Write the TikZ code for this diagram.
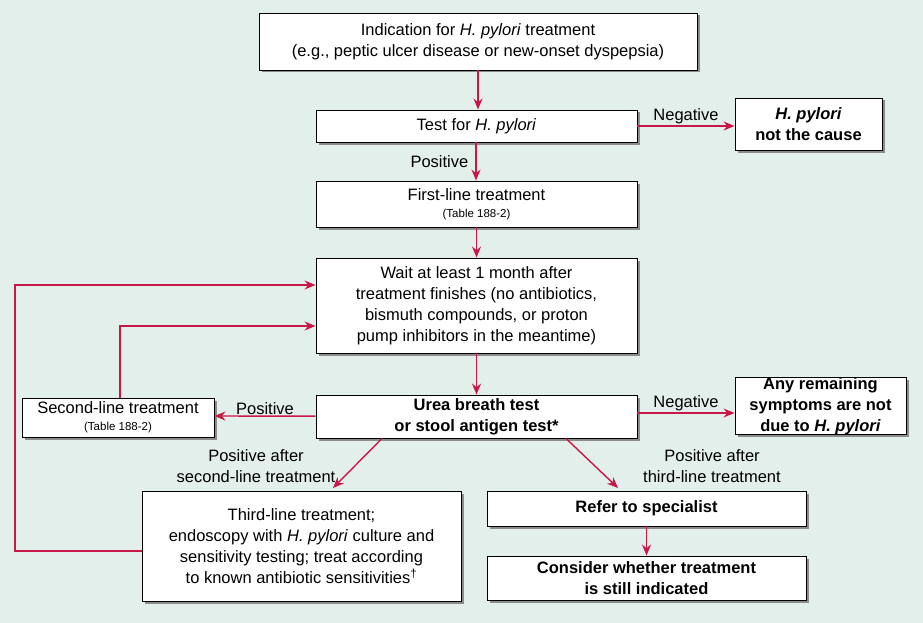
\documentclass[tikz,border=0pt]{standalone}
\usepackage{fontspec}
\setmainfont{Liberation Sans}
\usetikzlibrary{arrows.meta,shadows}
\definecolor{bg}{HTML}{E3EFEA}
\definecolor{ar}{HTML}{C8184A}
\newcommand\smtxt[1]{{\fontsize{11.5}{12}\selectfont #1}}
\begin{document}
\begin{tikzpicture}[x=1pt,y=-1pt,
 box/.style={draw=black,line width=0.9pt,fill=white,align=center,inner sep=0pt,
   font=\fontsize{16.5}{21}\selectfont,
   drop shadow={shadow xshift=2.5pt,shadow yshift=-2.5pt,fill=black!45,opacity=1}},
 con/.style={draw=ar,line width=1.4pt,-{Stealth[length=11pt,width=9pt]}},
 lab/.style={font=\fontsize{16.5}{21}\selectfont,align=center,inner sep=1pt}]
\fill[bg] (0,0) rectangle (923,623);
\useasboundingbox (0,0) rectangle (923,623);
\def\bx#1#2#3#4#5#6{\node[box,minimum width=#4-#2,minimum height=#5-#3] (#1) at ({(#2+#4)/2},{(#3+#5)/2}) {#6};}
\bx{top}{259}{13}{697}{70}{Indication for \textit{H. pylori} treatment\\(e.g., peptic ulcer disease or new-onset dyspepsia)}
\bx{test}{316}{110}{637}{142}{Test for \textit{H. pylori}}
\bx{notc}{735}{98}{882}{150}{\textbf{\textit{H. pylori}}\\\textbf{not the cause}}
\bx{first}{316}{181}{637}{227}{First-line treatment\\[-4pt]\smtxt{(Table 188-2)}}
\bx{wait}{316}{258}{637}{353}{Wait at least 1 month after\\treatment finishes (no antibiotics,\\bismuth compounds, or proton\\pump inhibitors in the meantime)}
\bx{urea}{316}{395}{637}{438}{\textbf{Urea breath test}\\\textbf{or stool antigen test*}}
\bx{rem}{735}{382}{906}{430}{\fontsize{16.5}{17}\selectfont\textbf{Any remaining}\\\textbf{symptoms are not}\\\textbf{due to \textit{H. pylori}}}
\bx{second}{22}{398}{214}{437}{Second-line treatment\\[-4pt]\smtxt{(Table 188-2)}}
\bx{third}{142}{491}{461}{601}{Third-line treatment;\\endoscopy with \textit{H. pylori} culture and\\sensitivity testing; treat according\\to known antibiotic sensitivities\textsuperscript{\dag}}
\bx{ref}{487}{491}{806}{526}{\textbf{Refer to specialist}}
\bx{cons}{487}{556}{806}{600}{\textbf{Consider whether treatment}\\\textbf{is still indicated}}
\coordinate (a1) at (120,326);
\coordinate (a2) at (15,285);
\draw[con] (top.south -| 478,0) -- (test.north -| 478,0);
\draw[con] (test) -- (notc.west |- test) node[lab,midway,above]{Negative};
\draw[con] (test.south -| 476,0) -- (first.north -| 476,0) node[lab,midway,left=6pt]{Positive};
\draw[con] (first) -- (wait);
\draw[con] (wait) -- (urea);
\draw[con] (urea) -- (second.east |- 0,416) node[lab,midway,above]{Positive};
\draw[con] (urea.east |- 0,413) -- (rem.west |- 0,413) node[lab,midway,above]{Negative};
\draw[con] (second.north -| a1) |- (wait.west |- a1);
\draw[con] (third.west |- 0,551) -| (a2) -- (wait.west |- a2);
\draw[con] (urea.south -| 382,0) -- (333,488);
\node[lab] at (256,466) {Positive after\\second-line treatment};
\draw[con] (urea.south -| 566,0) -- (618,488);
\node[lab] at (712,466) {Positive after\\third-line treatment};
\draw[con] (ref) -- (cons);
\end{tikzpicture}
\end{document}
